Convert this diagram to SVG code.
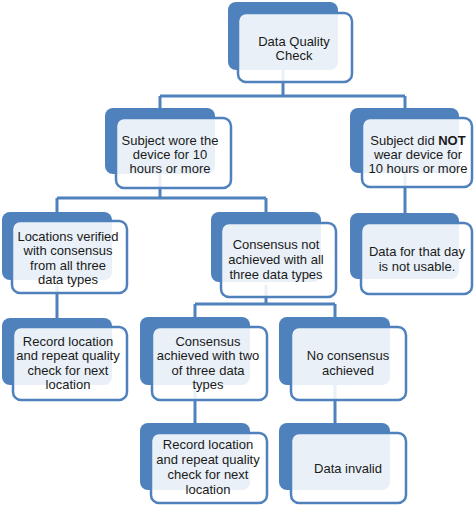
<svg xmlns="http://www.w3.org/2000/svg" width="474" height="505" viewBox="0 0 474 505">
<style>
.back{fill:#4f81bd;}
.front{fill:#ffffff;fill-opacity:0.88;stroke:#4f81bd;stroke-width:2.5;}
.conn{fill:none;stroke:#4f81bd;stroke-width:3;}
text{font-family:"Liberation Sans",Arial,sans-serif;font-size:13px;fill:#1a1a1a;text-anchor:middle;}
</style>
<rect width="474" height="505" fill="#ffffff"/>
<g id="connectors">
<path class="conn" d="M283 70V96M160 96H405M160 96V108M405 96V108"/>
<path class="conn" d="M160 173V198M57 198H266M57 198V212M266 198V212"/>
<path class="conn" d="M405 172V214"/>
<path class="conn" d="M57 280V318"/>
<path class="conn" d="M266 285V304M195 304H335M195 304V317M335 304V317"/>
<path class="conn" d="M195 385V423"/>
<path class="conn" d="M335 385V423"/>
</g>
<g id="n1">
<rect class="back" x="228" y="2" width="110" height="68" rx="8"/>
<rect class="front" x="238" y="13" width="114" height="69" rx="8"/>
<text x="294" y="46">Data Quality</text>
<text x="294" y="60">Check</text>
</g>
<g id="n2">
<rect class="back" x="105" y="108" width="110" height="66" rx="8"/>
<rect class="front" x="116" y="118" width="115" height="70" rx="8"/>
<text x="170" y="145">Subject wore the</text>
<text x="170" y="159">device for 10</text>
<text x="170" y="173">hours or more</text>
</g>
<g id="n3">
<rect class="back" x="350" y="108" width="109" height="65" rx="8"/>
<rect class="front" x="362" y="118" width="110" height="69" rx="8"/>
<text x="418" y="145">Subject did <tspan font-weight="bold">NOT</tspan></text>
<text x="418" y="159">wear device for</text>
<text x="418" y="173">10 hours or more</text>
</g>
<g id="n4">
<rect class="back" x="2" y="212" width="110" height="68" rx="8"/>
<rect class="front" x="12" y="221" width="115" height="72" rx="8"/>
<text x="68" y="241">Locations verified</text>
<text x="68" y="255">with consensus</text>
<text x="68" y="270">from all three</text>
<text x="68" y="284">data types</text>
</g>
<g id="n5">
<rect class="back" x="211" y="212" width="110" height="70" rx="8"/>
<rect class="front" x="221" y="223" width="115" height="74" rx="8"/>
<text x="276" y="249">Consensus not</text>
<text x="276" y="264">achieved with all</text>
<text x="276" y="279">three data types</text>
</g>
<g id="n6">
<rect class="back" x="350" y="213" width="109" height="66" rx="8"/>
<rect class="front" x="361" y="223" width="111" height="71" rx="8"/>
<text x="417" y="256">Data for that day</text>
<text x="417" y="271">is not usable.</text>
</g>
<g id="n7">
<rect class="back" x="2" y="318" width="110" height="67" rx="8"/>
<rect class="front" x="13" y="327" width="114" height="73" rx="8"/>
<text x="68" y="346">Record location</text>
<text x="68" y="360">and repeat quality</text>
<text x="68" y="375">check for next</text>
<text x="68" y="389">location</text>
</g>
<g id="n8">
<rect class="back" x="140" y="317" width="110" height="68" rx="8"/>
<rect class="front" x="152" y="327" width="115" height="73" rx="8"/>
<text x="208" y="346">Consensus</text>
<text x="208" y="360">achieved with two</text>
<text x="208" y="375">of three data</text>
<text x="208" y="389">types</text>
</g>
<g id="n9">
<rect class="back" x="279" y="317" width="111" height="68" rx="8"/>
<rect class="front" x="291" y="327" width="115" height="73" rx="8"/>
<text x="348" y="360">No consensus</text>
<text x="348" y="375">achieved</text>
</g>
<g id="n10">
<rect class="back" x="140" y="423" width="110" height="67" rx="8"/>
<rect class="front" x="151" y="433" width="116" height="70" rx="8"/>
<text x="208" y="449">Record location</text>
<text x="208" y="464">and repeat quality</text>
<text x="208" y="479">check for next</text>
<text x="208" y="494">location</text>
</g>
<g id="n11">
<rect class="back" x="279" y="423" width="111" height="67" rx="8"/>
<rect class="front" x="291" y="433" width="115" height="70" rx="8"/>
<text x="348" y="473">Data invalid</text>
</g>
</svg>
